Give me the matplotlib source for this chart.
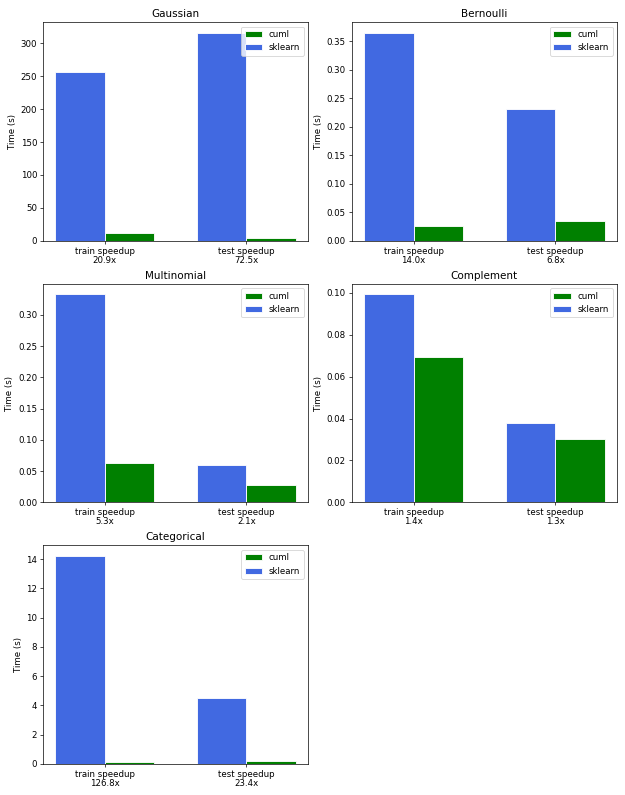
import matplotlib
matplotlib.use("Agg")
import matplotlib.pyplot as plt
import numpy as np

MODELS = ["Gaussian", "Bernoulli", "Multinomial", "Complement", "Categorical"]
PHASES = ["train", "test"]

# times in seconds: [train, test]
SKLEARN = {
    "Gaussian":    [257.0, 316.0],
    "Bernoulli":   [0.365, 0.231],
    "Multinomial": [0.333, 0.0595],
    "Complement":  [0.0993, 0.0381],
    "Categorical": [14.22, 4.50],
}
CUML = {
    "Gaussian":    [12.3, 4.36],
    "Bernoulli":   [0.0261, 0.0340],
    "Multinomial": [0.0628, 0.0283],
    "Complement":  [0.0692, 0.0302],
    "Categorical": [0.112, 0.192],
}
SPEEDUPS = {
    "Gaussian":    ["20.9x", "72.5x"],
    "Bernoulli":   ["14.0x", "6.8x"],
    "Multinomial": ["5.3x", "2.1x"],
    "Complement":  ["1.4x", "1.3x"],
    "Categorical": ["126.8x", "23.4x"],
}

fig, axes = plt.subplots(3, 2, figsize=(10, 12.72), dpi=62.5)
fig.subplots_adjust(left=0.069, right=0.987, top=0.972, bottom=0.039,
                    wspace=0.166, hspace=0.197)
axes = axes.flatten()

x = np.arange(len(PHASES))
w = 0.35
for ax, model in zip(axes, MODELS):
    ax.bar(x + w / 2, CUML[model], w, label="cuml", color="green", edgecolor="white")
    ax.bar(x - w / 2, SKLEARN[model], w, label="sklearn", color="royalblue", edgecolor="white")
    ax.set_xticks(x)
    ax.set_xticklabels([f"{p} speedup\n{s}" for p, s in zip(PHASES, SPEEDUPS[model])],
                       linespacing=1.0)
    ax.set_ylabel("Time (s)")
    ax.set_title(model)
    ax.legend(loc="upper right")

axes[-1].remove()
fig.savefig("out.png", dpi=62.5)
